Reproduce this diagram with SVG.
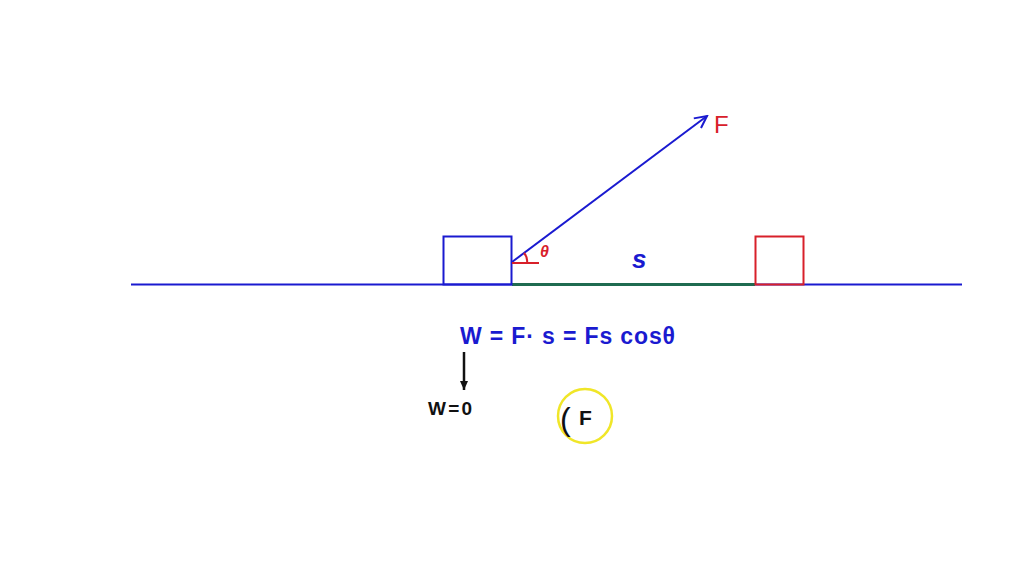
<svg xmlns="http://www.w3.org/2000/svg" width="1024" height="576" viewBox="0 0 1024 576">
<defs>
<style>
.blue{stroke:#1a1ad0;fill:none;stroke-width:2}
.red{stroke:#d8202a;fill:none;stroke-width:2}
.t{font-family:"Liberation Sans",sans-serif}
</style>
<marker id="ah" markerWidth="16" markerHeight="16" refX="14" refY="8" orient="auto" markerUnits="userSpaceOnUse">
<path d="M2,2 L14,8 L2,14" fill="none" stroke="#1a1ad0" stroke-width="2"/>
</marker>
<marker id="ahk" markerWidth="12" markerHeight="12" refX="10" refY="6" orient="auto" markerUnits="userSpaceOnUse">
<path d="M1,2 L10,6 L1,10 Z" fill="#111"/>
</marker>
</defs>
<rect width="1024" height="576" fill="#fff"/>
<g id="connectors">
<line x1="131" y1="284.5" x2="962" y2="284.5" class="blue" stroke-width="3"/>
<line x1="512" y1="284.5" x2="755" y2="284.5" stroke="#1f6b50" stroke-width="3"/>
<line x1="512" y1="262" x2="707" y2="116" class="blue" marker-end="url(#ah)"/>
<line x1="464" y1="352" x2="464" y2="390" stroke="#111" stroke-width="2.5" marker-end="url(#ahk)"/>
</g>
<g id="block1"><rect x="443.5" y="236.5" width="68" height="48" class="blue"/></g>
<g id="block2"><rect x="755.5" y="236.5" width="48" height="48" class="red"/></g>
<g id="angle">
<line x1="512" y1="263" x2="539" y2="263" class="red"/>
<path d="M524,253 A12,12 0 0 1 527,263" class="red"/>
<text x="540" y="257" class="t" font-size="16" font-style="italic" font-weight="bold" fill="#d8202a">θ</text>
</g>
<g id="labels">
<text x="714" y="133" class="t" font-size="24" fill="#d8202a">F</text>
<text x="632" y="268" class="t" font-size="26" font-style="italic" font-weight="bold" fill="#1a1ad0">s</text>
<text x="460" y="344" class="t" font-size="23" font-weight="bold" fill="#1a1ad0" textLength="215" lengthAdjust="spacing">W = F· s = Fs cosθ</text>
<text x="428" y="415" class="t" font-size="19" font-weight="bold" fill="#111" textLength="44" lengthAdjust="spacing">W=0</text>
</g>
<g id="highlight">
<circle cx="585" cy="416" r="27" fill="none" stroke="#f0e628" stroke-width="2.5"/>
<text x="560" y="430" class="t" font-size="32" fill="#111">(</text>
<text x="579" y="425" class="t" font-size="21" font-weight="bold" fill="#111">F</text>
</g>
</svg>
